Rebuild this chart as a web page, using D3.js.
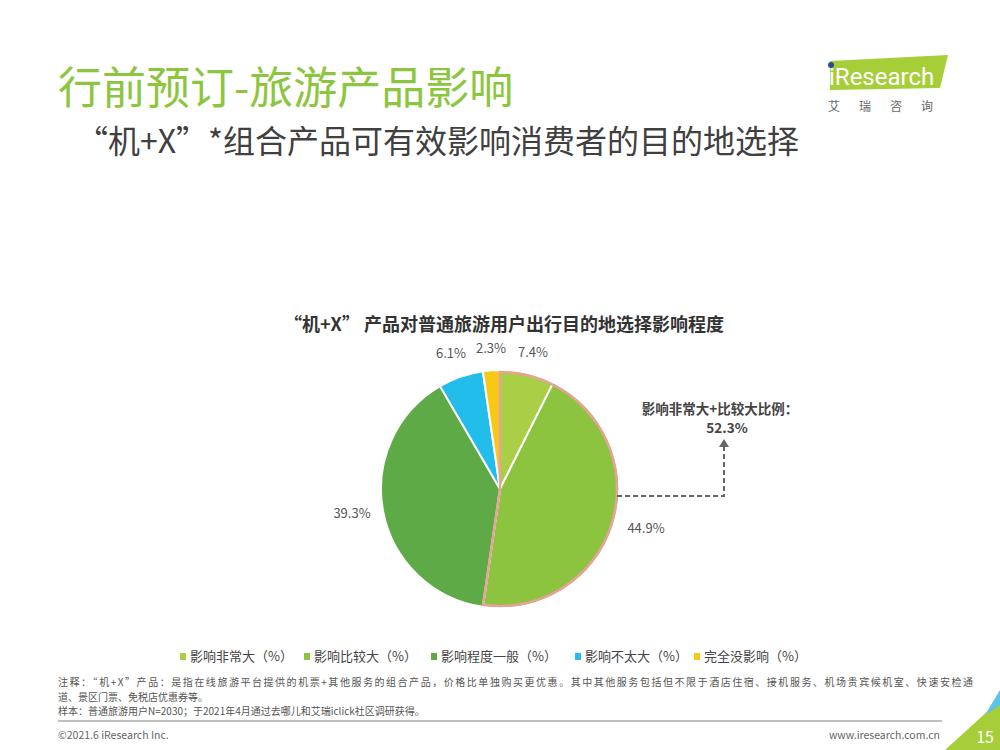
<!DOCTYPE html>
<html><head><meta charset="utf-8">
<script src="https://cdn.jsdelivr.net/npm/d3@7"></script>
<style>body{margin:0;background:#fff}svg{display:block}</style>
</head><body>
<svg id="c" width="1000" height="750"></svg>
<script>
const categories = ["影响非常大", "影响比较大", "影响程度一般", "影响不太大", "完全没影响"];
const values = [7.4, 44.9, 39.3, 6.1, 2.3];
const colors = ["#a8cf45", "#8cc43f", "#5daa47", "#22bdea", "#f8c914"];
const legendLabels = categories.map(c => c + "（%）");
const highlightValue = "52.3%";

const svg = d3.select("#c");
const F = "'Noto Sans CJK SC','Noto Sans',sans-serif";

// Header
svg.append("text").attr("x", 58).attr("y", 104).attr("font-family", F).attr("font-size", 44)
  .attr("fill", "#8cc63e").text("行前预订-旅游产品影响");
svg.append("text").attr("x", 76).attr("y", 153).attr("font-family", F).attr("font-size", 32)
  .attr("fill", "#404040").text("“机+X”*组合产品可有效影响消费者的目的地选择");

// Logo
svg.append("path").attr("d", "M830,61 L948,55 L940,88 L830,90 Z").attr("fill", "#a6ce39");
svg.append("circle").attr("cx", 831).attr("cy", 65).attr("r", 3).attr("fill", "#2e4a9e");
svg.append("text").attr("x", 829).attr("y", 85).attr("font-family", "Roboto,sans-serif").attr("font-size", 24)
  .attr("fill", "#fff").text("iResearch");
svg.append("text").attr("x", 828).attr("y", 111).attr("font-family", F).attr("font-size", 12)
  .attr("fill", "#666").attr("letter-spacing", 19).text("艾瑞咨询");

// Chart title
svg.append("text").attr("x", 504).attr("y", 331).attr("text-anchor", "middle").attr("font-family", F)
  .attr("font-size", 18).attr("font-weight", "bold").attr("fill", "#333")
  .text("“机+X” 产品对普通旅游用户出行目的地选择影响程度");

// Pie
const cx = 500, cy = 489, R = 119;
const pie = d3.pie().sort(null).value(d => d)(values);
const arc = d3.arc().innerRadius(0).outerRadius(R);
const g = svg.append("g").attr("transform", `translate(${cx},${cy})`);
g.selectAll("path.s").data(pie).join("path").attr("class", "s")
  .attr("d", arc).attr("fill", (d, i) => colors[i]).attr("stroke", "#fff").attr("stroke-width", 2);

// highlight outline for first two slices
const hl = d3.arc().innerRadius(0).outerRadius(R - 2)({startAngle: pie[0].startAngle, endAngle: pie[1].endAngle});
g.append("path").attr("d", hl).attr("fill", "none").attr("stroke", "#e6a39a").attr("stroke-width", 2.5);

// labels
const labelPos = [[533, 357], [646, 533], [352, 518], [451, 358], [491, 353]];
svg.selectAll("text.lab").data(values).join("text").attr("class", "lab")
  .attr("x", (d, i) => labelPos[i][0]).attr("y", (d, i) => labelPos[i][1])
  .attr("text-anchor", "middle").attr("font-family", F).attr("font-size", 13).attr("fill", "#555")
  .text(d => d.toFixed(1) + "%");

// dashed annotation
svg.append("path").attr("d", "M617,496 L724,496 L724,447").attr("fill", "none")
  .attr("stroke", "#666").attr("stroke-width", 2).attr("stroke-dasharray", "5,3");
svg.append("path").attr("d", "M719,447 L724,439 L729,447 Z").attr("fill", "#666");
svg.append("text").attr("x", 720).attr("y", 414).attr("text-anchor", "middle").attr("font-family", F)
  .attr("font-size", 13.5).attr("font-weight", "bold").attr("fill", "#444").text("影响非常大+比较大比例：");
svg.append("text").attr("x", 727).attr("y", 433).attr("text-anchor", "middle").attr("font-family", F)
  .attr("font-size", 13.5).attr("font-weight", "bold").attr("fill", "#444").text(highlightValue);

// Legend
const legX = [180, 304, 431, 575, 694];
const lg = svg.selectAll("g.leg").data(legendLabels).join("g").attr("class", "leg")
  .attr("transform", (d, i) => `translate(${legX[i]},657)`);
lg.append("rect").attr("x", 0).attr("y", -4).attr("width", 6).attr("height", 7).attr("fill", (d, i) => colors[i]);
lg.append("text").attr("x", 10).attr("y", 0).attr("dominant-baseline", "middle").attr("font-family", F)
  .attr("font-size", 13).attr("fill", "#444").text(d => d);

// Footer notes
const notes = [
  "注释：“机+X”产品：是指在线旅游平台提供的机票+其他服务的组合产品，价格比单独购买更优惠。其中其他服务包括但不限于酒店住宿、接机服务、机场贵宾候机室、快速安检通",
  "道、景区门票、免税店优惠券等。",
  "样本：普通旅游用户N=2030；于2021年4月通过去哪儿和艾瑞iclick社区调研获得。"
];
svg.selectAll("text.note").data(notes).join("text").attr("class", "note")
  .attr("x", 58).attr("y", (d, i) => 686 + i * 14.5).attr("font-family", F).attr("font-size", 10)
  .attr("fill", "#555").text(d => d)
  .each(function(d, i) { if (i === 0) d3.select(this).attr("textLength", 915).attr("lengthAdjust", "spacing"); });
svg.append("line").attr("x1", 58).attr("x2", 942).attr("y1", 721).attr("y2", 721).attr("stroke", "#aaa").attr("stroke-width", 1.5);
svg.append("text").attr("x", 58).attr("y", 739).attr("font-family", F).attr("font-size", 10.5).attr("fill", "#666").text("©2021.6 iResearch Inc.");
svg.append("text").attr("x", 940).attr("y", 739).attr("text-anchor", "end").attr("font-family", F).attr("font-size", 10.5).attr("fill", "#666").text("www.iresearch.com.cn");
svg.append("path").attr("d", "M1000,700 L1000,750 L945,750 Z").attr("fill", "#a6ce39");
svg.append("path").attr("d", "M1000,690 L1000,705 L985,715 Z").attr("fill", "#5bc3e8");
svg.append("text").attr("x", 994).attr("y", 743).attr("text-anchor", "end").attr("font-family", F).attr("font-size", 16).attr("fill", "#fff").text("15");
</script>
</body></html>
